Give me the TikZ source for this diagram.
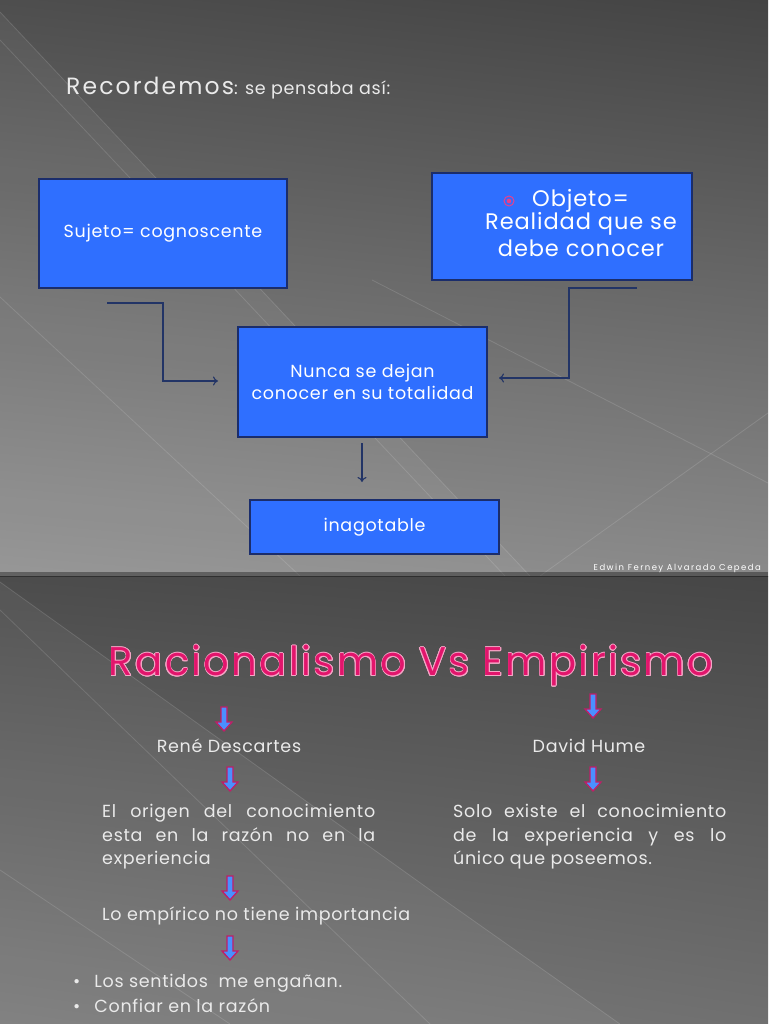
\documentclass[tikz,border=0pt]{standalone}
\usepackage{fontspec}
\setmainfont{Poppins}[LetterSpace=4]
\newfontfamily\spacedfont[LetterSpace=9]{Poppins}
\newfontfamily\titlefont[LetterSpace=6]{Poppins}
\newfontfamily\footfont[LetterSpace=17]{Poppins}
\usepackage{contour}
\contourlength{0.7pt}
\usetikzlibrary{arrows.meta,shadings}
\definecolor{boxfill}{HTML}{2F6FFF}
\definecolor{boxline}{HTML}{1B2D6B}
\definecolor{conn}{HTML}{223466}
\definecolor{txt}{HTML}{EAEAEA}
\definecolor{pinkt}{HTML}{E2156C}
\definecolor{pinkl}{HTML}{F4A6C6}
\definecolor{arrblue}{HTML}{4A90FF}
\definecolor{arrpink}{HTML}{C01E68}
\definecolor{bullpink}{HTML}{E8408C}
\definecolor{sAul}{HTML}{4E4E4E}
\definecolor{sAur}{HTML}{444444}
\definecolor{sAll}{HTML}{929292}
\definecolor{sAlr}{HTML}{8A8A8A}
\definecolor{sBul}{HTML}{4C4C4C}
\definecolor{sBur}{HTML}{464646}
\definecolor{sBll}{HTML}{7C7C7C}
\definecolor{sBlr}{HTML}{707070}
\tikzset{
  bluebox/.style={draw=boxline, line width=2pt, fill=boxfill, inner sep=0pt},
  boxtext/.style={text=white, font=\fontsize{17.5}{22}\selectfont, inner sep=0pt},
  conline/.style={draw=conn, line width=1.1pt, -{To[length=5pt,width=9pt]}},
  bodytext/.style={text=txt, font=\fontsize{17.5}{23.5}\selectfont, inner sep=0pt},
  deco/.style={draw=white, opacity=0.13, line width=0.8pt},
  blockarrow/.pic={\draw[fill=arrblue, draw=arrpink, line width=1.3pt, line join=miter]
     (-3,0) -- (3,0) -- (3,15) -- (8,15) -- (0,24) -- (-8,15) -- (-3,15) -- cycle;}
}
\begin{document}
\begin{tikzpicture}[x=1pt,y=-1pt]
\useasboundingbox (0,0) rectangle (768,1024);
% ---------- slide 1 background ----------
\shade[upper left=sAul, upper right=sAur, lower left=sAll, lower right=sAlr]
  (0,0) rectangle (768,576);
\fill[white, opacity=0.05] (0,12) -- (530,576) -- (0,576) -- cycle;
\draw[deco] (0,12) -- (530,576);
\draw[deco] (0,40) -- (505,576);
\draw[deco] (372,280) -- (768,483);
\draw[deco] (540,576) -- (768,413);
\draw[deco] (0,297) -- (300,576);
% ---------- slide 2 background ----------
\shade[upper left=sBul, upper right=sBur, lower left=sBll, lower right=sBlr]
  (0,576) rectangle (768,1024);
\fill[black, opacity=0.35] (0,572) rectangle (768,577);
\fill[white, opacity=0.05] (0,582) -- (440,897) -- (620,1024) -- (0,1024) -- cycle;
\draw[deco] (0,582) -- (440,897) -- (620,1024);
\draw[deco] (0,610) -- (430,1024);
\draw[deco] (0,870) -- (230,1024);
% ---------- slide 1 ----------
\node[anchor=base west, text=txt, inner sep=0pt] (rec) at (66,95)
  {{\spacedfont\fontsize{23.5}{28}\selectfont Recordemos}{\fontsize{17.5}{20}\selectfont: se pensaba así:}};
\node[bluebox, minimum width=248pt, minimum height=109pt] (suj) at (163,233.5) {};
\node[boxtext] (sujt) at (suj.center) {Sujeto= cognoscente};
\node[bluebox, minimum width=260pt, minimum height=107pt] (obj) at (562,226.5) {};
\draw[bullpink, line width=1pt] (509,201) circle (5pt);
\fill[bullpink] (509,201) circle (2.3pt);
\node[boxtext, font=\fontsize{22.5}{24}\selectfont, anchor=west] (objt1) at (532,201) {Objeto=};
\node[boxtext, font=\fontsize{22.5}{24}\selectfont] (objt2) at (581,224) {Realidad que se};
\node[boxtext, font=\fontsize{22.5}{24}\selectfont] (objt3) at (581,248) {debe conocer};
\node[bluebox, minimum width=249pt, minimum height=110pt] (nun) at (362.5,382) {};
\node[boxtext, align=center, font=\fontsize{17.5}{22.5}\selectfont] (nunt) at (nun.center) {Nunca se dejan\\conocer en su totalidad};
\node[bluebox, minimum width=249pt, minimum height=54pt] (ina) at (374.5,527) {};
\node[boxtext] (inat) at (ina.center) {inagotable};
\coordinate (c1a) at (107,303);
\coordinate (c1b) at (218,381);
\draw[conline] (c1a) -- (163,303) -- (163,381) -- (c1b);
\coordinate (c2a) at (637,288);
\coordinate (c2b) at (499,378);
\draw[conline] (c2a) -- (569,288) -- (569,378) -- (c2b);
\coordinate (c3a) at (362,443);
\coordinate (c3b) at (362,482);
\draw[conline] (c3a) -- (c3b);
\node[anchor=base east, text=white, inner sep=0pt, font=\footfont\fontsize{8.5}{10}\selectfont] (foot) at (761,570) {Edwin Ferney Alvarado Cepeda};
% ---------- slide 2 ----------
\node[inner sep=0pt, font=\titlefont\fontsize{40}{46}\selectfont, text=pinkt] (title) at (411,666)
  {\contour{pinkl}{\textcolor{pinkt}{Racionalismo Vs Empirismo}}};
\pic at (224,707) {blockarrow};
\pic at (593,694) {blockarrow};
\node[bodytext] (rene) at (229,746) {René Descartes};
\node[bodytext] (hume) at (589,746) {David Hume};
\pic at (230,767) {blockarrow};
\pic at (593,767) {blockarrow};
\node[bodytext, text width=273pt, align=justify, anchor=north west] (orig) at (102,804)
  {El origen del conocimiento\linebreak esta en la razón no en la\linebreak experiencia};
\node[bodytext, text width=273pt, align=justify, anchor=north west] (solo) at (453,804)
  {Solo existe el conocimiento\linebreak de la experiencia y es lo\linebreak único que poseemos.};
\pic at (230,876) {blockarrow};
\node[bodytext, anchor=west] (emp) at (102,916) {Lo empírico no tiene importancia};
\pic at (230,936) {blockarrow};
\node[bodytext, anchor=west] (b1) at (73,983) {•\hspace{14pt}Los sentidos\ \ me engañan.};
\node[bodytext, anchor=west] (b2) at (73,1006) {•\hspace{14pt}Confiar en la razón};
\end{tikzpicture}
\end{document}
